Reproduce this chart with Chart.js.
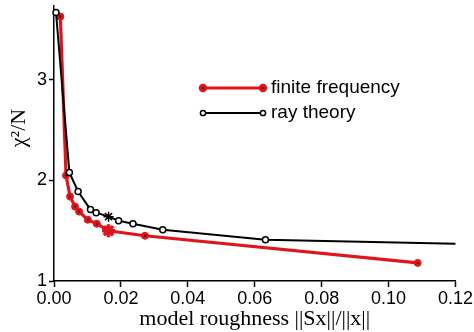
<!DOCTYPE html>
<html>
<head>
<meta charset="utf-8">
<script src="https://cdn.jsdelivr.net/npm/chart.js@4/dist/chart.umd.min.js"></script>
<style>
  html, body { margin: 0; padding: 0; background: #fff; }
  #wrap { width: 474px; height: 332px; }
</style>
</head>
<body>
<div id="wrap"><canvas id="chart"></canvas></div>
<script>
// finite frequency curve
const ffX = [0.0019, 0.0036, 0.0048, 0.0063, 0.0075, 0.0101, 0.0128, 0.0163, 0.0272, 0.1087];
const ffY = [3.63, 2.05, 1.84, 1.74, 1.69, 1.61, 1.57, 1.50, 1.45, 1.18];
// ray theory curve
const rayX = [0.0006, 0.0046, 0.0072, 0.0109, 0.0126, 0.0163, 0.0193, 0.0236, 0.0325, 0.0632, 0.12];
const rayY = [3.67, 2.08, 1.89, 1.71, 1.68, 1.64, 1.60, 1.57, 1.51, 1.41, 1.37];
// the picked model on each curve (drawn as a star)
const ffStar = 7;
const rayStar = 5;

const xTicks = [0, 0.02, 0.04, 0.06, 0.08, 0.10, 0.12];
const yTicks = [1, 2, 3];
const legendLabels = ['finite frequency', 'ray theory'];
const yTitle = 'χ²/N';

const RED = '#e0141b';
const toPts = (xs, ys) => xs.map((x, i) => ({ x: x, y: ys[i] }));

// custom legend: a short line with a marker at each end, plus the y title
const legendPlugin = {
  id: 'lineLegend',
  afterDraw(chart) {
    const ctx = chart.ctx;
    const rows = [
      { y: 88, color: RED, width: 3, r: 3.5, fill: RED },
      { y: 113, color: '#000', width: 1.8, r: 2.6, fill: '#fff' }
    ];
    ctx.save();
    rows.forEach((row, i) => {
      ctx.strokeStyle = row.color;
      ctx.lineWidth = row.width;
      ctx.beginPath();
      ctx.moveTo(203, row.y);
      ctx.lineTo(263, row.y);
      ctx.stroke();
      [203, 263].forEach(x => {
        ctx.beginPath();
        ctx.arc(x, row.y, row.r, 0, Math.PI * 2);
        ctx.fillStyle = row.fill;
        ctx.fill();
        ctx.lineWidth = 1.5;
        ctx.strokeStyle = row.color;
        ctx.stroke();
        if (i === 0) {
          ctx.beginPath();
          ctx.arc(x, row.y, 1, 0, Math.PI * 2);
          ctx.fillStyle = '#000';
          ctx.fill();
        }
      });
      ctx.fillStyle = '#000';
      ctx.font = '19px "Liberation Sans", Arial, sans-serif';
      ctx.textBaseline = 'middle';
      ctx.fillText(legendLabels[i], 271, row.y);
    });

    // y axis title, sits a bit above the middle of the axis
    ctx.translate(19, 128);
    ctx.rotate(-Math.PI / 2);
    ctx.font = '22px "Liberation Serif", "Times New Roman", serif';
    ctx.textAlign = 'center';
    ctx.textBaseline = 'middle';
    ctx.fillStyle = '#000';
    ctx.fillText(yTitle, 0, 0);
    ctx.restore();
  }
};

const ffStyle = ffX.map((x, i) => i === ffStar ? 'star' : 'circle');
const ffRadius = ffX.map((x, i) => i === ffStar ? 6.5 : 3.5);
const ffBorder = ffX.map((x, i) => i === ffStar ? 3.5 : 1);
const rayStyle = rayX.map((x, i) => i === rayStar ? 'star' : 'circle');
const rayRadius = rayX.map((x, i) => i === rayX.length - 1 ? 0 : (i === rayStar ? 5 : 3));

new Chart(document.getElementById('chart'), {
  type: 'scatter',
  data: {
    datasets: [
      {
        label: legendLabels[0],
        data: toPts(ffX, ffY),
        showLine: true,
        borderColor: RED,
        borderWidth: 3.2,
        pointBackgroundColor: RED,
        pointBorderColor: RED,
        pointBorderWidth: ffBorder,
        pointRadius: ffRadius,
        pointStyle: ffStyle,
        tension: 0,
        clip: false,
        order: 3
      },
      {
        // small black centre dots on the red markers
        label: 'ff dots',
        data: toPts(ffX, ffY),
        showLine: false,
        pointBackgroundColor: '#000',
        pointBorderWidth: 0,
        pointRadius: ffX.map((x, i) => i === ffStar ? 0 : 1),
        clip: false,
        order: 2
      },
      {
        label: legendLabels[1],
        data: toPts(rayX, rayY),
        showLine: true,
        borderColor: '#000',
        borderWidth: 2,
        pointBackgroundColor: '#fff',
        pointBorderColor: '#000',
        pointBorderWidth: 1.5,
        pointRadius: rayRadius,
        pointStyle: rayStyle,
        tension: 0,
        clip: false,
        order: 1
      }
    ]
  },
  options: {
    responsive: true,
    maintainAspectRatio: false,
    animation: false,
    layout: { padding: { top: 0, right: 17, left: 0, bottom: 0 } },
    plugins: {
      legend: { display: false },
      tooltip: { enabled: false }
    },
    scales: {
      x: {
        type: 'linear',
        min: 0,
        max: 0.12,
        afterBuildTicks: s => { s.ticks = xTicks.map(v => ({ value: v })); },
        afterFit: s => { s.height = 51; },
        border: { color: '#000', width: 1.5 },
        grid: { drawOnChartArea: false, drawTicks: true, tickLength: 6, tickWidth: 1.5, color: '#000' },
        ticks: {
          color: '#000',
          padding: 1,
          maxRotation: 0,
          font: { family: '"Liberation Sans", Arial, sans-serif', size: 18 },
          callback: v => v.toFixed(2)
        },
        title: {
          display: true,
          text: 'model roughness ||Sx||/||x||',
          color: '#000',
          padding: { top: 0, bottom: 0 },
          font: { family: '"Liberation Serif", "Times New Roman", serif', size: 22 }
        }
      },
      y: {
        type: 'linear',
        min: 1,
        max: 3.74,
        afterBuildTicks: s => { s.ticks = yTicks.map(v => ({ value: v })); },
        afterFit: s => { s.width = 54; s.paddingTop = 0; s.paddingBottom = 0; },
        border: { color: '#000', width: 1.5 },
        grid: { drawOnChartArea: false, drawTicks: true, tickLength: 5, tickWidth: 1.5, color: '#000' },
        ticks: {
          color: '#000',
          padding: 2,
          font: { family: '"Liberation Sans", Arial, sans-serif', size: 18 }
        }
      }
    }
  },
  plugins: [legendPlugin]
});
</script>
</body>
</html>
